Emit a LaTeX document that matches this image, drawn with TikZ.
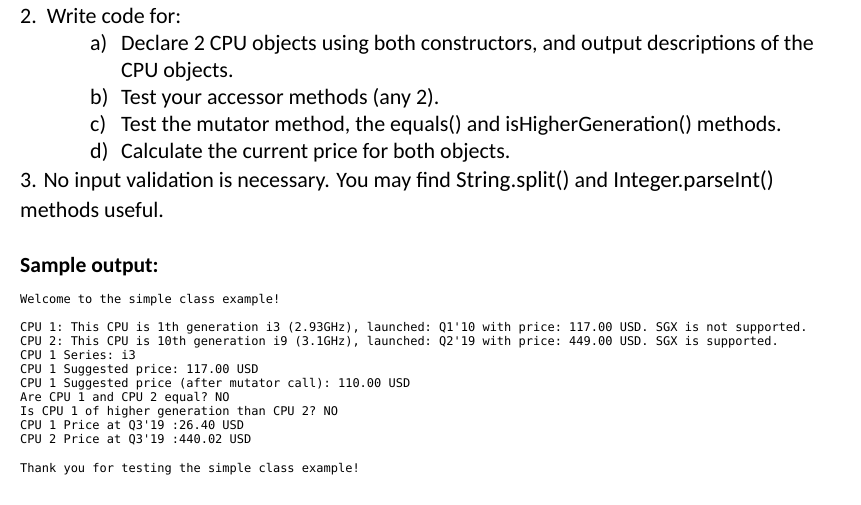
\documentclass[tikz,border=0pt]{standalone}
\usepackage{fontspec}
\setmainfont{Carlito}
\setmonofont{DejaVu Sans Mono}
\begin{document}
\begin{tikzpicture}[x=1pt,y=1pt,
  t/.style={anchor=base west,inner sep=0pt,font=\fontsize{22}{24}\selectfont},
  m/.style={anchor=base west,inner sep=0pt,font=\ttfamily\fontsize{12.0}{14}\selectfont}]
\useasboundingbox (0,0) rectangle (861,-505);
\node[t] (l1) at (20,-24) {2.\ \ Write code for:};
\node[t] (a1) at (90,-51) {a)};
\node[t] (a2) at (121,-51) {Declare 2 CPU objects using both constructors, and output descriptions of the};
\node[t] (a3) at (121,-78) {CPU objects.};
\node[t] (b1) at (90,-105) {b)};
\node[t] (b2) at (121,-105) {Test your accessor methods (any 2).};
\node[t] (c1) at (90,-132) {c)};
\node[t] (c2) at (121,-132) {Test the mutator method, the equals() and isHigherGeneration() methods.};
\node[t] (d1) at (90,-159) {d)};
\node[t] (d2) at (121,-159) {Calculate the current price for both objects.};
\node[t] (l3) at (20,-187) {3. No input validation is necessary. You may find {\fontsize{23}{24}\selectfont String.split()} and {\fontsize{23}{24}\selectfont Integer.parseInt()}};
\node[t] (l4) at (20,-217) {methods useful.};
\node[t,font=\bfseries\fontsize{21.6}{24}\selectfont] (so) at (20,-272) {Sample output:};
\node[m] (m0) at (20,-303) {Welcome to the simple class example!};
\node[m] (m1) at (20,-331) {CPU 1: This CPU is 1th generation i3 (2.93GHz), launched: Q1'10 with price: 117.00 USD. SGX is not supported.};
\node[m] (m2) at (20,-345) {CPU 2: This CPU is 10th generation i9 (3.1GHz), launched: Q2'19 with price: 449.00 USD. SGX is supported.};
\node[m] (m3) at (20,-359) {CPU 1 Series: i3};
\node[m] (m4) at (20,-373) {CPU 1 Suggested price: 117.00 USD};
\node[m] (m5) at (20,-387) {CPU 1 Suggested price (after mutator call): 110.00 USD};
\node[m] (m6) at (20,-401) {Are CPU 1 and CPU 2 equal? NO};
\node[m] (m7) at (20,-415) {Is CPU 1 of higher generation than CPU 2? NO};
\node[m] (m8) at (20,-429) {CPU 1 Price at Q3'19 :26.40 USD};
\node[m] (m9) at (20,-443) {CPU 2 Price at Q3'19 :440.02 USD};
\node[m] (m10) at (20,-472) {Thank you for testing the simple class example!};
\end{tikzpicture}
\end{document}
